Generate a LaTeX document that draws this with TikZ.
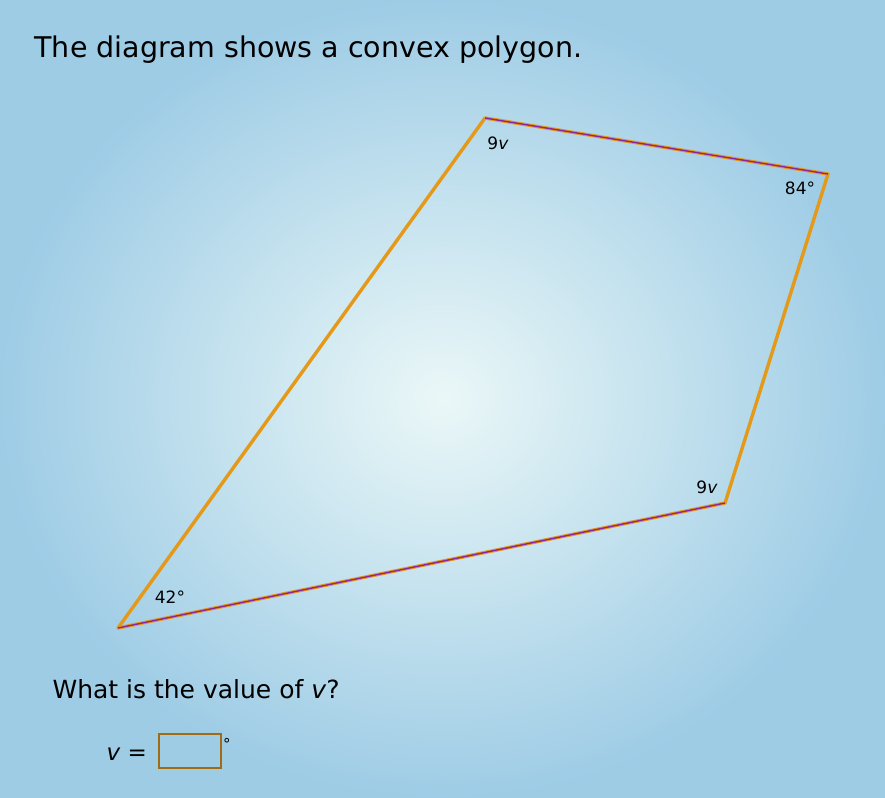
\documentclass[tikz,border=0pt]{standalone}
\usepackage{fontspec}
\setmainfont{DejaVu Sans}
\usepackage{tikz}

\definecolor{edgeorange}{rgb}{0.90,0.60,0.10}
\definecolor{edgepurple}{rgb}{0.55,0.15,0.60}
\definecolor{paper}{rgb}{0.92,0.97,0.97}
\definecolor{screen}{rgb}{0.62,0.80,0.90}

\tikzset{
    side/.style={edgeorange, line width=3.4pt, line join=round},
    sidetop/.style={edgepurple, line width=1.4pt, line join=round},
    angle label/.style={font=\fontsize{17}{20}\selectfont},
    prompt/.style={anchor=base west, font=\fontsize{28.5}{34}\selectfont}
}

\begin{document}
\begin{tikzpicture}[x=1pt, y=-1pt]
    % background
    \shade[inner color=paper, outer color=screen] (0,0) rectangle (885,797);
    \useasboundingbox (0,0) rectangle (885,797);

    \node[prompt] (title) at (31,58) {The diagram shows a convex polygon.};

    % polygon corners
    \coordinate (top) at (485,118);
    \coordinate (right) at (828,174);
    \coordinate (low) at (725,503);
    \coordinate (left) at (118,628);

    \draw[side] (top) -- (right) -- (low) -- (left) -- cycle;
    \draw[sidetop] (top) -- (right);
    \draw[sidetop] (low) -- (left);

    \node[angle label] (atop) at (498,143) {9\textit{v}};
    \node[angle label] (aright) at (800,188) {84°};
    \node[angle label] (alow) at (707,487) {9\textit{v}};
    \node[angle label] (aleft) at (170,597) {42°};

    \node[prompt, font=\fontsize{25}{30}\selectfont] (question) at (49,698) {What is the value of \textit{v}?};
    \node[anchor=base west, font=\fontsize{23}{28}\selectfont] (answer) at (103,760) {\textit{v} =};
    \node[draw=edgeorange!70!black, line width=1.8pt, minimum width=62pt, minimum height=34pt,
        anchor=west] (box) at (158,751) {};
    \node[anchor=south west, inner sep=1pt, font=\fontsize{15}{18}\selectfont] (deg) at (box.north east) [yshift=-18pt] {°};
\end{tikzpicture}
\end{document}
